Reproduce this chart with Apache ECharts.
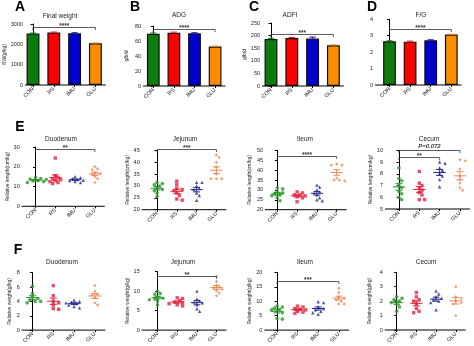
<!DOCTYPE html>
<html><head><meta charset="utf-8">
<script src="https://cdn.jsdelivr.net/npm/echarts@6/dist/echarts.min.js"></script>
<style>html,body{margin:0;padding:0;background:#fff}#c{width:474px;height:346px}</style>
</head><body><div id="c"></div>
<script>
const groups = ['CON', 'RS', 'IMU', 'GLU'];

// Growth performance: group means and SEM
const finalWeight = [2530, 2580, 2545, 2050];
const finalWeightSem = [25, 22, 25, 20];
const adg = [69.7, 71.0, 70.2, 52.7];
const adgSem = [1.0, 0.8, 0.8, 0.6];
const adfi = [186.5, 190.5, 188.0, 161.4];
const adfiSem = [3, 2.5, 6, 2];
const feedGain = [2.66, 2.64, 2.72, 3.07];
const feedGainSem = [0.03, 0.03, 0.03, 0.03];

// Relative intestinal length (cm/kg), individual birds per group: CON, RS, IMU, GLU
const lenDuodenum = [
  [14.5, 14, 13.8, 13.5, 13.2, 13, 12.8, 12.5, 12],
  [24.4, 15.5, 14.5, 14, 13.5, 13, 12.5, 12, 11.5],
  [15, 14.5, 14, 13.5, 13.2, 13, 12.5, 12],
  [20, 19, 18.5, 17, 16.5, 16, 15, 14, 12]
];
const lenJejunum = [
  [31.5, 31, 30.5, 30, 29, 28.5, 28, 27, 25.5],
  [32, 30.5, 29, 28.5, 28, 27, 26, 24.5, 24],
  [31.5, 31.5, 30, 29, 28.5, 27, 26, 24],
  [43, 42, 40, 38, 35, 33, 33, 33, 32.5]
];
const lenIleum = [
  [31, 30.5, 29, 28.5, 28, 27.5, 27, 26, 24.5],
  [29, 28.5, 27.5, 27.5, 27, 26.5, 26, 24],
  [32.5, 31.5, 30, 29, 28.5, 27.5, 26, 25, 24.5],
  [43, 42.5, 42.5, 42, 36, 35, 35, 34.5]
];
const lenCecum = [
  [8.5, 7.6, 7.4, 7.0, 6.8, 6.5, 6.3, 6.0, 5.8],
  [8.2, 7.2, 7.0, 6.8, 6.6, 6.4, 6.2, 5.8, 5.8],
  [9.0, 8.9, 8.5, 8.3, 8.0, 7.8, 7.5, 6.9],
  [9.2, 9.1, 8.4, 7.8, 7.5, 7.2, 6.8, 6.6]
];

// Relative intestinal weight (g/kg)
const wtDuodenum = [
  [6.1, 5.1, 4.6, 4.4, 4.2, 4.0, 4.0, 3.8],
  [6.2, 4.8, 4.0, 3.8, 3.5, 3.0, 2.9],
  [4.2, 4.0, 3.9, 3.8, 3.7, 3.5, 3.3, 3.1],
  [6.2, 5.4, 5.0, 4.9, 4.5, 3.8, 3.5]
];
const wtJejunum = [
  [9.9, 9.4, 9.2, 8.5, 8.2, 8.0, 7.8, 7.5, 6.5],
  [8.3, 8.1, 7.6, 7.2, 7.0, 6.8, 6.5, 6.2],
  [10.0, 8.0, 7.5, 7.2, 7.0, 6.5, 5.5, 4.8],
  [13.8, 12.5, 11.5, 11.0, 10.8, 10.5, 10.0, 9.5, 8.8]
];
const wtIleum = [
  [8.3, 8.0, 7.6, 7.2, 7.0, 6.5, 6.0, 4.0, 3.8],
  [8.3, 8.0, 7.5, 7.2, 7.0, 6.5, 6.2, 5.8],
  [9.8, 9.5, 8.0, 7.5, 7.0, 6.5, 6.0, 5.5],
  [14.5, 13.0, 11.5, 11.0, 10.5, 10.0, 9.0, 9.0]
];
const wtCecum = [
  [2.3, 2.2, 2.1, 2.0, 1.9, 1.8, 1.6, 1.3],
  [2.6, 2.3, 2.1, 2.0, 1.8, 1.5, 1.3, 1.2],
  [2.7, 2.5, 2.3, 2.2, 2.1, 2.0, 1.9, 1.4],
  [3.0, 2.3, 2.2, 2.0, 1.9, 1.8, 1.0]
];

const barColors = ['#0c7d0c', '#ff0000', '#0000cc', '#ff8c00'];
const dotColors = ['#2a962a', '#e5213d', '#28288f', '#ec8858'];
const dotSymbols = ['circle', 'rect', 'triangle', 'diamond'];
const FONT = '"Liberation Sans", Arial, sans-serif';
const INK = '#222';

// Panel layout: axX = y-axis line, c0 = first category centre, s = category spacing
const barPanels = [
  { letter: 'A', lx: 20, ly: 7, title: 'Final weight', tx: 60, ty: 16, yName: 'BW(g/kg)', nameGap: 15,
    mean: finalWeight, sem: finalWeightSem, min: 0, max: 3000, step: 1000,
    axX: 25, c0: 33, s: 20.8, top: 24, h: 61, sig: [{ from: 0, to: 3, at: 2850, text: '****' }] },
  { letter: 'B', lx: 135, ly: 7, title: 'ADG', tx: 179, ty: 15, yName: 'g/b/d', nameGap: 14,
    mean: adg, sem: adgSem, min: 0, max: 80, step: 20,
    axX: 143, c0: 153.3, s: 20.6, top: 26, h: 60, sig: [{ from: 0, to: 3, at: 75.6, text: '****' }] },
  { letter: 'C', lx: 254, ly: 7, title: 'ADFI', tx: 290, ty: 15, yName: 'g/b/d', nameGap: 14,
    mean: adfi, sem: adfiSem, min: 0, max: 250, step: 50,
    axX: 262, c0: 271, s: 20.8, top: 23, h: 63, sig: [{ from: 0, to: 3, at: 208, text: '***' }] },
  { letter: 'D', lx: 372, ly: 7, title: 'F/G', tx: 421, ty: 15, yName: '', nameGap: 12,
    mean: feedGain, sem: feedGainSem, min: 0, max: 4, step: 1,
    axX: 375, c0: 389.5, s: 20.6, top: 19.3, h: 65.7, sig: [{ from: 0, to: 3, at: 3.43, text: '****' }] }
];

const lenName = 'Relative length(cm/kg)';
const wtName = 'Relative weight(g/kg)';
const dotPanels = [
  { letter: 'E', lx: 20, ly: 127, title: 'Duodenum', tx: 61, ty: 139, yName: lenName, nameGap: 11,
    values: lenDuodenum, min: 0, max: 30, step: 10,
    axX: 21.7, c0: 35.5, s: 19.8, top: 147, h: 59.3, sig: [{ from: 0, to: 3, at: 29, text: '**' }] },
  { title: 'Jejunum', tx: 185, ty: 139, yName: lenName, nameGap: 10,
    values: lenJejunum, min: 20, max: 45, step: 5,
    axX: 141.7, c0: 157, s: 19.8, top: 150.3, h: 59.4, sig: [{ from: 0, to: 3, at: 45.7, text: '***' }] },
  { title: 'Ileum', tx: 305, ty: 139, yName: lenName, nameGap: 13,
    values: lenIleum, min: 20, max: 50, step: 5,
    axX: 265, c0: 277.3, s: 19.8, top: 150.3, h: 59.4, sig: [{ from: 0, to: 3, at: 47, text: '****' }] },
  { title: 'Cecum', tx: 429, ty: 139, yName: lenName, nameGap: 12,
    values: lenCecum, min: 5, max: 10, step: 1,
    axX: 385, c0: 399, s: 20.3, top: 150.3, h: 58.7,
    sig: [{ from: 0, to: 3, at: 10.05, text: 'P=0.072', italic: true }, { from: 0, to: 2, at: 9.43, text: '**' }] },
  { letter: 'F', lx: 18, ly: 250, title: 'Duodenum', tx: 62, ty: 262, yName: wtName, nameGap: 10,
    values: wtDuodenum, min: 0, max: 8, step: 2,
    axX: 21.7, c0: 32.5, s: 20.8, top: 272.7, h: 60.6, sig: [] },
  { title: 'Jejunum', tx: 183, ty: 262, yName: wtName, nameGap: 10,
    values: wtJejunum, min: 0, max: 15, step: 5,
    axX: 141.7, c0: 157.5, s: 19.7, top: 271.7, h: 61, sig: [{ from: 0, to: 3, at: 13.8, text: '**' }] },
  { title: 'Ileum', tx: 305, ty: 262, yName: wtName, nameGap: 12,
    values: wtIleum, min: 0, max: 20, step: 5,
    axX: 264.3, c0: 277, s: 20.6, top: 272.3, h: 60, sig: [{ from: 0, to: 3, at: 16.9, text: '***' }] },
  { title: 'Cecum', tx: 426, ty: 262, yName: wtName, nameGap: 13,
    values: wtCecum, min: 0, max: 4, step: 1,
    axX: 384.7, c0: 396.7, s: 19.7, top: 272.3, h: 57.7, sig: [] }
];

const grid = [], xAxis = [], yAxis = [], series = [], graphic = [];

function addPanelFrame(p, idx) {
  const left = p.c0 - p.s / 2;
  const offset = left - p.axX;
  grid.push({ left: left, top: p.top, width: 4 * p.s, height: p.h });
  xAxis.push({
    type: 'category', gridIndex: idx, data: groups, boundaryGap: true,
    axisLine: { show: false },
    axisTick: { show: true, alignWithLabel: true, length: 2, lineStyle: { color: '#000', width: 1 } },
    axisLabel: { rotate: 45, fontSize: 5.5, margin: 3, color: INK, fontFamily: FONT, interval: 0 }
  });
  xAxis.push({ type: 'value', gridIndex: idx, min: -0.5, max: 3.5, show: false });
  yAxis.push({
    type: 'value', gridIndex: idx, min: p.min, max: p.max, interval: p.step, offset: offset,
    name: p.yName, nameLocation: 'middle', nameGap: p.nameGap,
    nameTextStyle: { fontSize: 5, fontFamily: FONT, color: INK },
    axisLine: { show: true, lineStyle: { color: '#000', width: 1 } },
    axisTick: { show: true, length: 2.5, lineStyle: { color: '#000', width: 1 } },
    axisLabel: { fontSize: 5.5, margin: 2, color: INK, fontFamily: FONT,
      formatter: function (v) { return String(v); } },
    splitLine: { show: false }
  });
  // x-axis baseline running from the y-axis line to the right edge
  series.push({
    type: 'custom', xAxisIndex: 2 * idx, yAxisIndex: idx, silent: true, clip: false, z: 5,
    data: [[0, p.min]],
    renderItem: function (params, api) {
      const cs = params.coordSys;
      const y = api.coord([0, p.min])[1];
      return { type: 'line', shape: { x1: cs.x - offset, y1: y, x2: cs.x + cs.width, y2: y },
        style: { stroke: '#000', lineWidth: 1 } };
    }
  });
  // significance brackets
  if (p.sig.length) {
    series.push({
      type: 'custom', xAxisIndex: 2 * idx, yAxisIndex: idx, silent: true, clip: false, z: 6,
      data: p.sig.map(function (g) { return [g.from, g.to, g.at]; }),
      renderItem: function (params, api) {
        const g = p.sig[params.dataIndex];
        const a = api.coord([g.from, g.at]), b = api.coord([g.to, g.at]);
        const y = Math.round(a[1]) + 0.5;
        return { type: 'group', children: [
          { type: 'polyline', shape: { points: [[a[0], y + 2.5], [a[0], y], [b[0], y], [b[0], y + 2.5]] },
            style: { stroke: '#333', lineWidth: 0.8, fill: null } },
          { type: 'text', style: {
              text: g.text, x: (a[0] + b[0]) / 2, y: g.italic ? y - 1.5 : y + 2,
              textAlign: 'center', align: 'center', textVerticalAlign: 'bottom', verticalAlign: 'bottom',
              font: (g.italic ? 'italic bold ' : 'bold ') + (g.italic ? '6px ' : '6.5px ') + FONT, fill: '#333' } }
        ] };
      }
    });
  }
  graphic.push({ type: 'text', x: p.tx, y: p.ty, silent: true,
    style: { text: p.title, font: '6.5px ' + FONT, fill: INK, textAlign: 'center', align: 'center',
      textVerticalAlign: 'middle', verticalAlign: 'middle' } });
  if (p.letter) {
    graphic.push({ type: 'text', x: p.lx, y: p.ly, silent: true,
      style: { text: p.letter, font: 'bold 14px ' + FONT, fill: '#000', textAlign: 'center', align: 'center',
        textVerticalAlign: 'middle', verticalAlign: 'middle' } });
  }
}

// bar panels
barPanels.forEach(function (p, idx) {
  addPanelFrame(p, idx);
  series.push({
    type: 'bar', xAxisIndex: 2 * idx, yAxisIndex: idx, barWidth: p.s * 0.62, silent: true,
    data: p.mean.map(function (v, i) {
      return { value: v, itemStyle: { color: barColors[i], borderColor: '#111', borderWidth: 1.2 } };
    })
  });
  series.push({
    type: 'custom', xAxisIndex: 2 * idx, yAxisIndex: idx, silent: true, clip: false, z: 4,
    data: p.mean.map(function (v, i) { return [i, v, p.sem[i]]; }),
    renderItem: function (params, api) {
      const i = api.value(0), m = api.value(1), e = api.value(2);
      const p0 = api.coord([i, m]), p1 = api.coord([i, m + e]);
      const cw = api.size([1, 0])[0] * 0.3;
      const c = barColors[i];
      return { type: 'group', children: [
        { type: 'line', shape: { x1: p0[0], y1: p0[1], x2: p1[0], y2: p1[1] }, style: { stroke: c, lineWidth: 1 } },
        { type: 'line', shape: { x1: p1[0] - cw / 2, y1: p1[1], x2: p1[0] + cw / 2, y2: p1[1] }, style: { stroke: c, lineWidth: 1 } }
      ] };
    }
  });
});

// beeswarm offsets (in category units) so that overlapping points spread sideways
function swarm(vals, pxPerUnit, spacing) {
  const d = 3.2, step = 2.7;
  const order = vals.map(function (v, i) { return i; }).sort(function (a, b) { return vals[b] - vals[a]; });
  const placed = [], out = new Array(vals.length);
  order.forEach(function (i) {
    const py = vals[i] * pxPerUnit;
    const cands = [0, 1, -1, 2, -2, 3, -3, 4, -4];
    for (let k = 0; k < cands.length; k++) {
      const px = cands[k] * step;
      const hit = placed.some(function (q) { return (q[0] - px) * (q[0] - px) + (q[1] - py) * (q[1] - py) < d * d; });
      if (!hit || k === cands.length - 1) { placed.push([px, py]); out[i] = px / spacing; break; }
    }
  });
  return out;
}

function meanSem(arr) {
  const n = arr.length;
  const m = arr.reduce(function (a, b) { return a + b; }, 0) / n;
  const sd = Math.sqrt(arr.reduce(function (a, b) { return a + (b - m) * (b - m); }, 0) / (n - 1));
  return [m, sd / Math.sqrt(n)];
}

// dot-plot panels
dotPanels.forEach(function (p, j) {
  const idx = barPanels.length + j;
  addPanelFrame(p, idx);
  const pxPerUnit = p.h / (p.max - p.min);
  p.values.forEach(function (vals, g) {
    const off = swarm(vals, pxPerUnit, p.s);
    series.push({
      type: 'scatter', xAxisIndex: 2 * idx + 1, yAxisIndex: idx, silent: true,
      symbol: dotSymbols[g], symbolSize: g === 0 ? 3.6 : 3.4,
      itemStyle: { color: dotColors[g] },
      data: vals.map(function (v, k) { return [g + off[k], v]; })
    });
  });
  series.push({
    type: 'custom', xAxisIndex: 2 * idx, yAxisIndex: idx, silent: true, clip: false, z: 4,
    data: p.values.map(function (vals, g) { const ms = meanSem(vals); return [g, ms[0], ms[1]]; }),
    renderItem: function (params, api) {
      const g = api.value(0), m = api.value(1), e = api.value(2);
      const band = api.size([1, 0])[0];
      const pm = api.coord([g, m]), pt = api.coord([g, m + e]), pb = api.coord([g, m - e]);
      const ml = band * 0.62, cl = band * 0.34;
      const st = { stroke: dotColors[g], lineWidth: 1 };
      return { type: 'group', children: [
        { type: 'line', shape: { x1: pm[0] - ml / 2, y1: pm[1], x2: pm[0] + ml / 2, y2: pm[1] }, style: st },
        { type: 'line', shape: { x1: pt[0], y1: pt[1], x2: pb[0], y2: pb[1] }, style: st },
        { type: 'line', shape: { x1: pt[0] - cl / 2, y1: pt[1], x2: pt[0] + cl / 2, y2: pt[1] }, style: st },
        { type: 'line', shape: { x1: pb[0] - cl / 2, y1: pb[1], x2: pb[0] + cl / 2, y2: pb[1] }, style: st }
      ] };
    }
  });
});

const chart = echarts.init(document.getElementById('c'));
chart.setOption({
  animation: false,
  backgroundColor: '#fff',
  grid: grid, xAxis: xAxis, yAxis: yAxis, series: series, graphic: graphic
});
</script></body></html>
